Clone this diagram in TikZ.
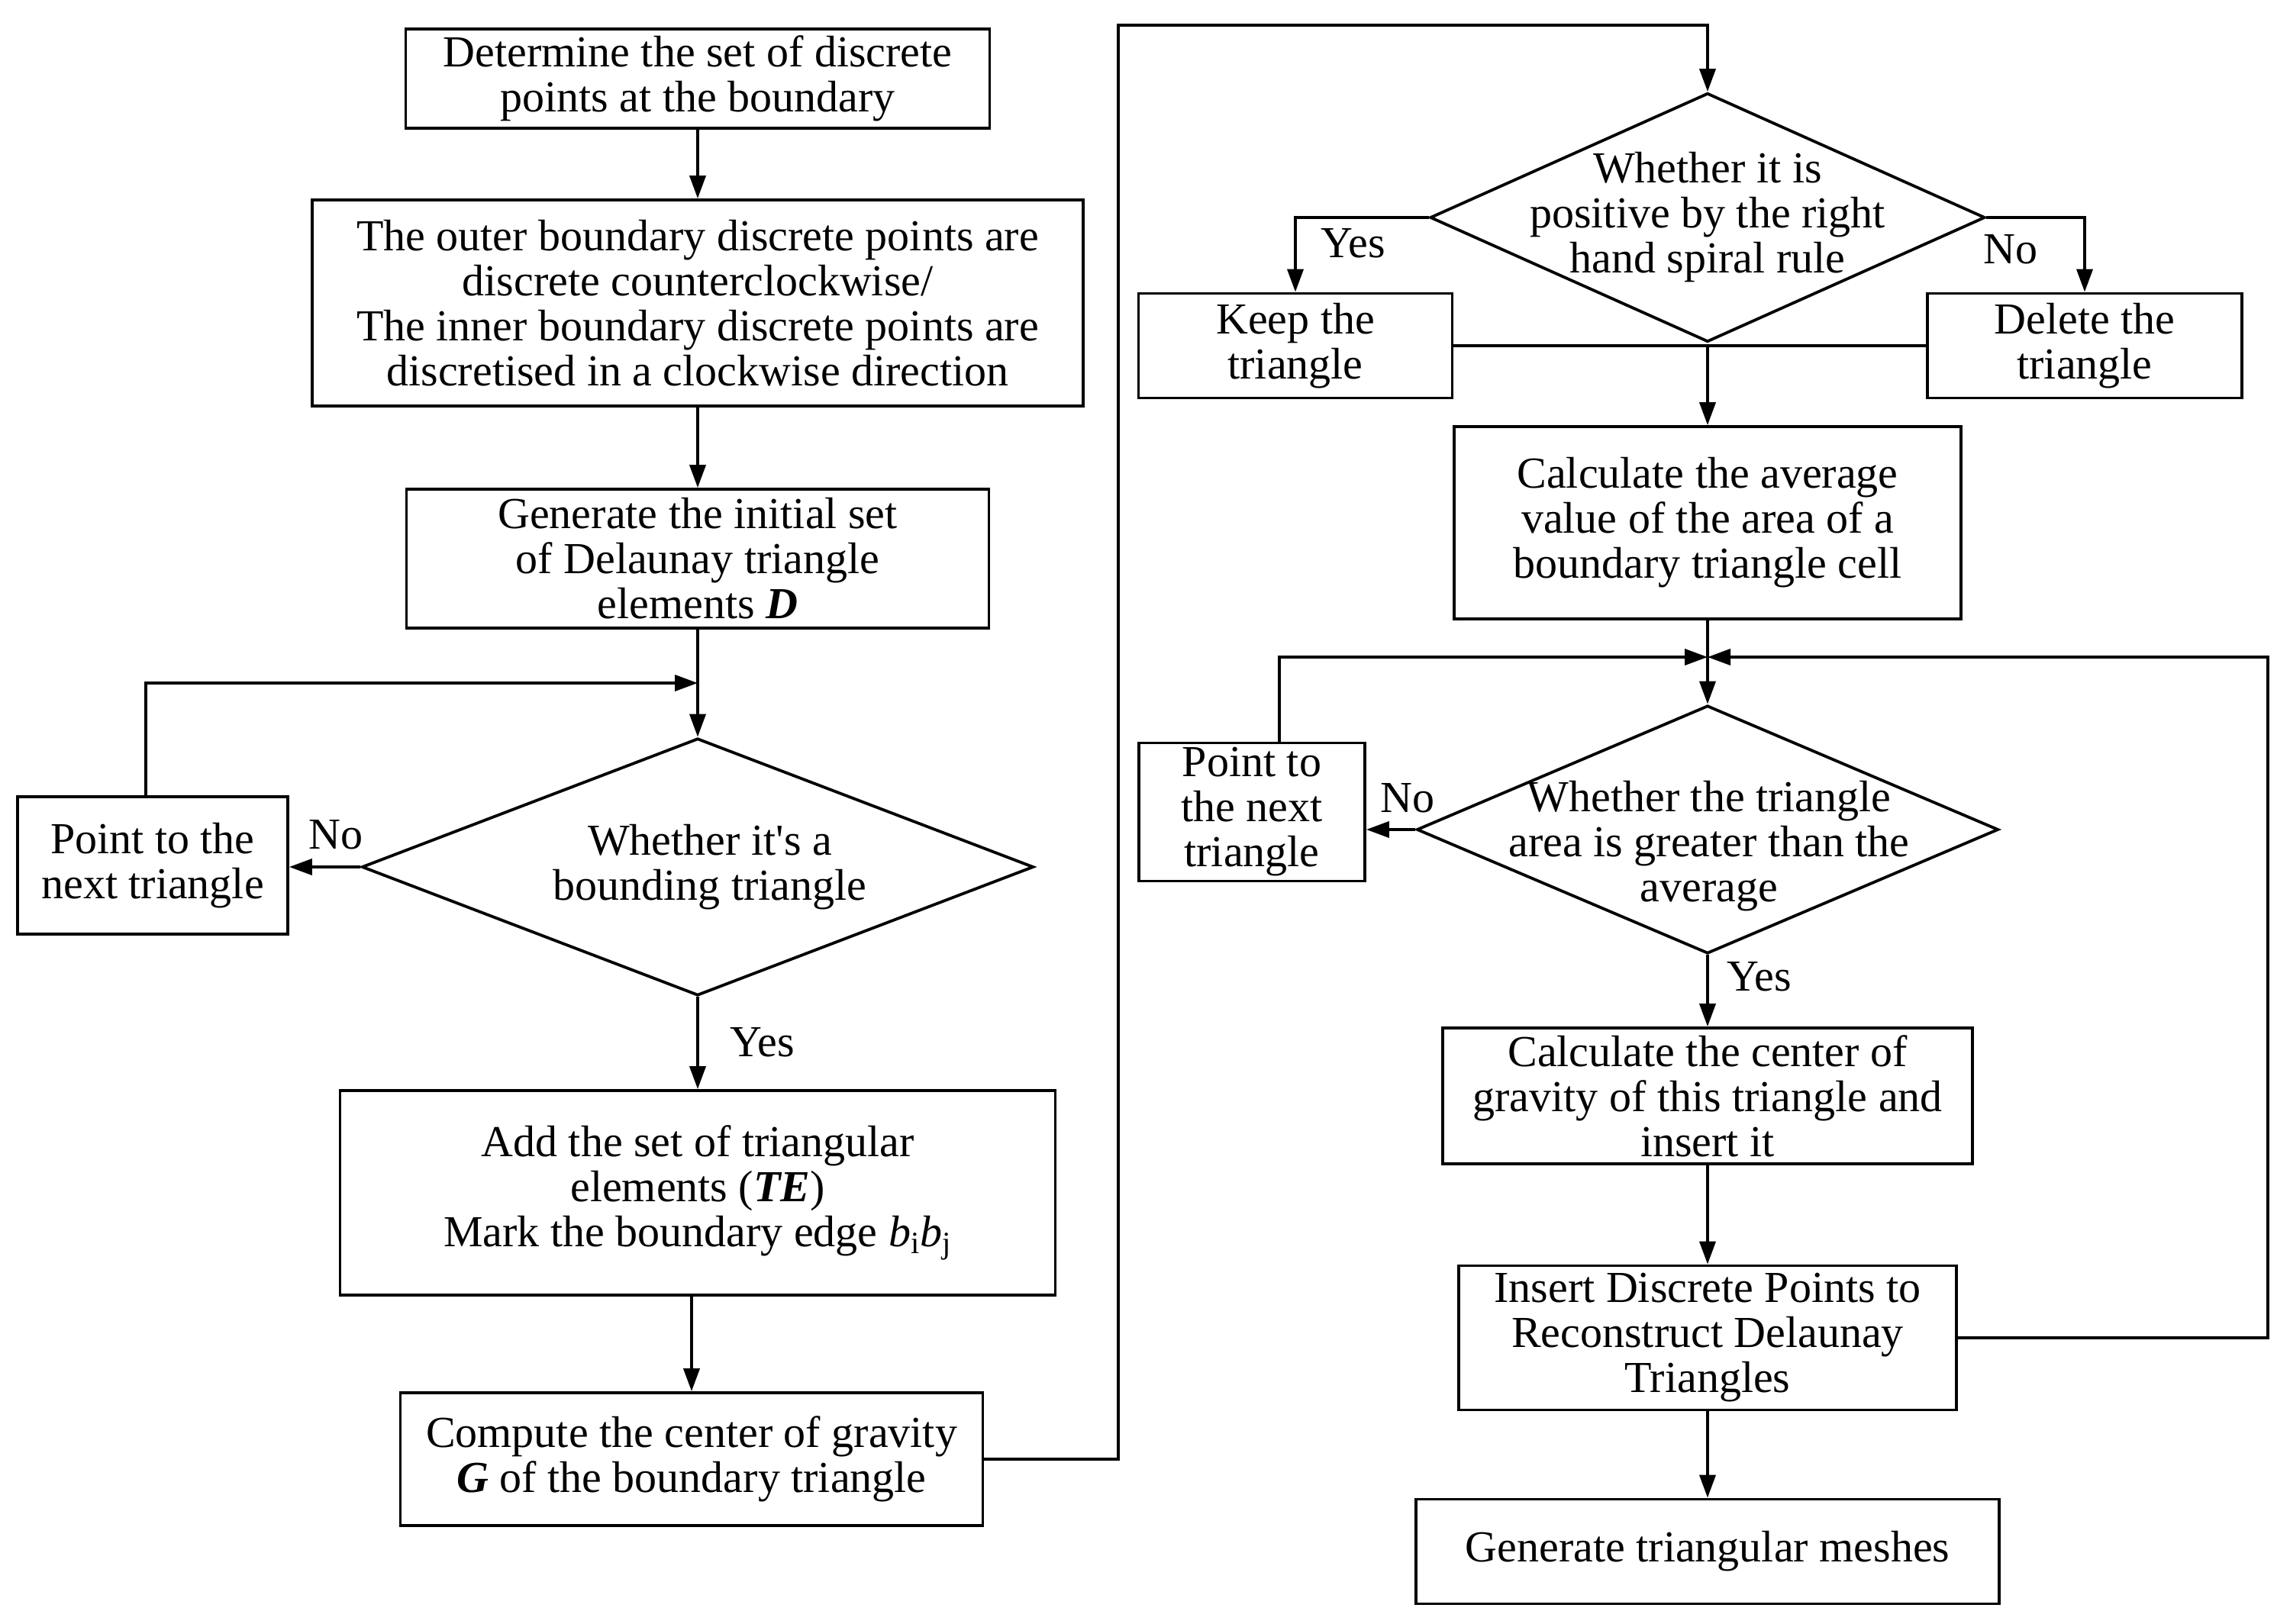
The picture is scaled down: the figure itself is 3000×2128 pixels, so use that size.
\documentclass[tikz,border=0pt]{standalone}
\usepackage{fontspec}
\setmainfont{Liberation Serif}
\usetikzlibrary{shapes.geometric,arrows.meta}
\begin{document}
\begin{tikzpicture}[x=0.5pt,y=-0.5pt,
  every node/.style={font=\fontsize{29}{29.5}\selectfont},
  box/.style={draw,line width=1.9pt,align=center,inner sep=0pt},
  dia/.style={draw,diamond,line width=1.9pt,inner sep=0pt},
  dtext/.style={align=center,inner sep=0pt},
  lbl/.style={inner sep=0pt},
  conn/.style={line width=1.9pt},
  arr/.style={conn,-{Triangle[length=15pt,width=10.5pt]}},
]
\fill[white] (0,0) rectangle (3000,2128);
\useasboundingbox (0,0) rectangle (3000,2128);

% left column
\node[box,minimum width=382.5pt,minimum height=65pt] (b1) at (914,103) {Determine the set of discrete\\points at the boundary};
\node[box,minimum width=505pt,minimum height=135pt] (b2) at (914,397) {The outer boundary discrete points are\\discrete counterclockwise/\\The inner boundary discrete points are\\discretised in a clockwise direction};
\node[box,minimum width=381.5pt,minimum height=91pt] (b3) at (914,732) {Generate the initial set\\of Delaunay triangle\\elements \textbf{\textit{D}}};
\node[dia,minimum width=440pt,minimum height=168.5pt,label={[dtext,xshift=8pt]center:Whether it\textquotesingle s a\\bounding triangle}] (d1) at (914,1136) {};
\node[box,minimum width=177pt,minimum height=90pt] (p1) at (200,1134) {Point to the\\next triangle};
\node[box,minimum width=468.5pt,minimum height=134pt] (b4) at (914,1563) {Add the set of triangular\\elements (\textbf{\textit{TE}})\\Mark the boundary edge \textit{b}\textsubscript{i}\textit{b}\textsubscript{j}};
\node[box,minimum width=381.5pt,minimum height=87pt] (b5) at (906,1912) {Compute the center of gravity\\\textbf{\textit{G}} of the boundary triangle};

% right column
\node[dia,minimum width=363.5pt,minimum height=163pt,label={[dtext]center:Whether it is\\positive by the right\\hand spiral rule}] (d2) at (2237,285) {};
\node[box,minimum width=205.5pt,minimum height=68.5pt] (keep) at (1697,453) {Keep the\\triangle};
\node[box,minimum width=206pt,minimum height=68.5pt] (del) at (2731,453) {Delete the\\triangle};
\node[box,minimum width=332pt,minimum height=126pt] (calc) at (2237,685) {Calculate the average\\value of the area of a\\boundary triangle cell};
\node[dia,minimum width=381pt,minimum height=162.5pt,label={[dtext,yshift=-11pt,xshift=1pt]center:Whether the triangle\\area is greater than the\\average}] (d3) at (2237,1087) {};
\node[box,minimum width=148pt,minimum height=90.5pt] (p2) at (1640,1064) {Point to\\the next\\triangle};
\node[box,minimum width=347pt,minimum height=89pt] (b6) at (2237,1436) {Calculate the center of\\gravity of this triangle and\\insert it};
\node[box,minimum width=326pt,minimum height=94.5pt] (b7) at (2237,1753) {Insert Discrete Points to\\Reconstruct Delaunay\\Triangles};
\node[box,minimum width=382pt,minimum height=68.5pt] (b8) at (2237,2033) {Generate triangular meshes};

% labels
\node[lbl] (no1) at (440,1094) {No};
\node[lbl] (yes1) at (999,1366) {Yes};
\node[lbl] (yes2) at (1773,319) {Yes};
\node[lbl] (no2) at (2634,327) {No};
\node[lbl] (no3) at (1844,1046) {No};
\node[lbl] (yes3) at (2305,1280) {Yes};

% junction coordinates
\coordinate (m1) at (914,895);
\coordinate (m2) at (2237,861);
\coordinate (p1t) at ([xshift=-4.5pt]p1.north);
\coordinate (p2t) at ([xshift=18pt]p2.north);
\coordinate (topr) at (1465,33);
\coordinate (rloop) at (2971,861);

% connectors
\draw[arr] (b1.south) -- (b2.north);
\draw[arr] (b2.south) -- (b3.north);
\draw[arr] (b3.south) -- (d1.north);
\draw[arr] (p1t) |- (m1);
\draw[arr] (d1.west) -- (d1.west -| p1.east);
\draw[arr] (d1.south) -- (b4.north);
\draw[arr] (b4.south -| b5.north) -- (b5.north);
\draw[arr] (b5.east) -| (topr) -| (d2.north);
\draw[arr] (d2.west) -| (keep.north);
\draw[arr] (d2.east) -| (del.north);
\draw[conn] (keep.east) -- (del.west);
\draw[arr] (keep.east -| calc.north) -- (calc.north);
\draw[arr] (calc.south) -- (d3.north);
\draw[arr] (p2t) |- (m2);
\draw[arr] (d3.west) -- (d3.west -| p2.east);
\draw[arr] (d3.south) -- (b6.north);
\draw[arr] (b6.south) -- (b7.north);
\draw[arr] (b7.south) -- (b8.north);
\draw[arr] (b7.east) -| (rloop) -- (m2);
\end{tikzpicture}
\end{document}
